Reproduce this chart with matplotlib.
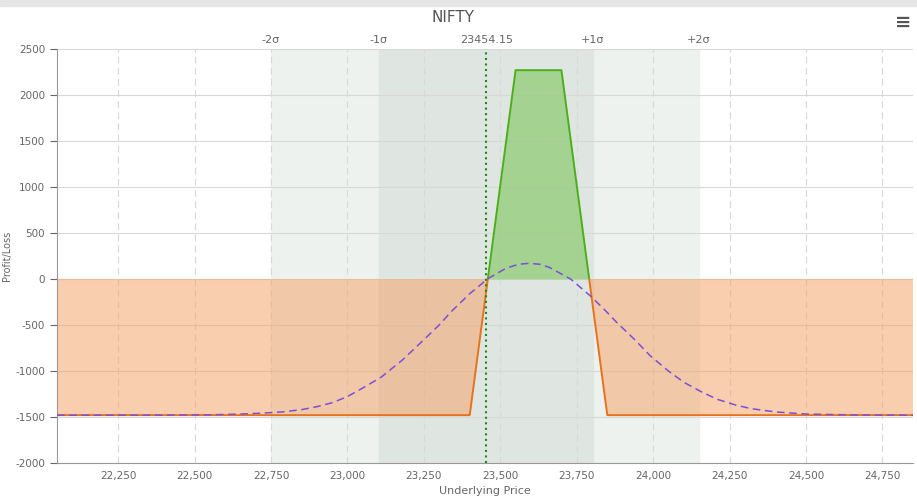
import matplotlib
matplotlib.use("Agg")
import matplotlib.pyplot as plt
import numpy as np

# payoff at expiry (piecewise linear through strikes)
payoff_x = [22050, 23400, 23550, 23700, 23850, 24850]
payoff_y = [-1480, -1480, 2270, 2270, -1480, -1480]

# expected P/L curve (dashed)
curve_x = [22050, 22400, 22550, 22650, 22720, 22790, 22850, 22900, 22950, 23000, 23050,
           23110, 23180, 23250, 23300, 23340, 23400, 23460, 23520, 23560, 23593, 23630,
           23660, 23730, 23795, 23840, 23880, 23940, 23990, 24050, 24100, 24160, 24210,
           24270, 24320, 24400, 24500, 24650, 24850]
curve_y = [-1480, -1479, -1476, -1468, -1458, -1444, -1420, -1388, -1345, -1278, -1185,
           -1068, -880, -660, -500, -353, -160, 5, 119, 160, 170, 160,
           127, 0, -185, -330, -469, -660, -833, -1000, -1122, -1230, -1308,
           -1370, -1409, -1445, -1468, -1477, -1480]

spot = 23454.15
sigma_x = [22750, 23103, 23802, 24149]
sigma_labels = ["-2σ", "-1σ", "+1σ", "+2σ"]

xticks = [22250, 22500, 22750, 23000, 23250, 23500, 23750, 24000, 24250, 24500, 24750]
yticks = [-2000, -1500, -1000, -500, 0, 500, 1000, 1500, 2000, 2500]

GREY = "#666666"

fig = plt.figure(figsize=(9.17, 4.99), dpi=100)
ax = fig.add_axes([57 / 917, 36 / 499, 856 / 917, 414 / 499])

ax.axvspan(sigma_x[0], sigma_x[3], color="#eef2ef", zorder=0)
ax.axvspan(sigma_x[1], sigma_x[2], color="#dfe6e1", zorder=0)

# dense piecewise-linear evaluation for fills
xs = np.linspace(payoff_x[0], payoff_x[-1], 4001)
ys = np.interp(xs, payoff_x, payoff_y)
ax.fill_between(xs, 0, ys, where=ys < 0, color="#f4a66e", alpha=0.55, linewidth=0, zorder=1)
ax.fill_between(xs, 0, ys, where=ys > 0, color="#8ccc70", alpha=0.7, linewidth=0, zorder=1)

pos = np.where(ys >= 0, ys, np.nan)
neg = np.where(ys <= 0, ys, np.nan)
ax.plot(xs, neg, color="#e8711c", linewidth=1.4, zorder=3)
ax.plot(xs, pos, color="#4caf1a", linewidth=1.4, zorder=3)
ax.plot(curve_x, curve_y, color="#7b4fd6", linestyle=(0, (5, 3)), linewidth=1.1, zorder=4)
ax.axvline(spot, color="#1a8a1a", linestyle=":", linewidth=1.5, zorder=5)

ax.set_xlim(22050, 24850)
ax.set_ylim(-2000, 2500)
ax.set_xticks(xticks, [f"{t:,}" for t in xticks])
ax.set_yticks(yticks, [str(t) for t in yticks])
ax.grid(axis="y", color="#d8d8d8", linewidth=0.8, zorder=0)
ax.grid(axis="x", color="#d8d8d8", linestyle=(0, (6, 4)), linewidth=0.8, zorder=0)
ax.set_axisbelow(True)
for s in ("top", "right"):
    ax.spines[s].set_visible(False)
ax.spines["left"].set_color("#999999")
ax.spines["bottom"].set_color("#999999")
ax.tick_params(colors=GREY, labelsize=7.5, length=5, direction="out")
ax.tick_params(axis="x", length=0, pad=6)
ax.set_xlabel("Underlying Price", fontsize=8, color=GREY, labelpad=3)
ax.set_ylabel("Profit/Loss", fontsize=7, color=GREY, labelpad=2)

for x, lab in zip(sigma_x + [spot], sigma_labels + [f"{spot:.2f}"]):
    ax.text(x, 2540, lab, ha="center", va="bottom", fontsize=8, color=GREY)

fig.text(453 / 917, 1 - 18 / 499, "NIFTY", ha="center", va="center", fontsize=11, color="#555555")
fig.text(903 / 917, 1 - 22 / 499, "≡", ha="center", va="center", fontsize=14, color="#555555",
         fontweight="bold")
fig.patches.append(plt.Rectangle((0, 1 - 6 / 499), 1, 6 / 499, transform=fig.transFigure,
                                 color="#e6e6e6"))

fig.savefig("out.png", dpi=100, facecolor="white")
